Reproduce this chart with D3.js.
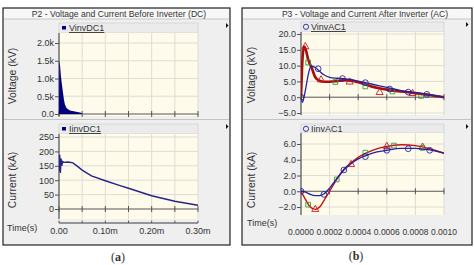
<!DOCTYPE html>
<html>
<head>
<meta charset="utf-8">
<script src="https://cdn.jsdelivr.net/npm/d3@7"></script>
<style>
body{margin:0;background:#fff;}
svg text{font-family:"Liberation Sans",Arial,sans-serif;fill:#333;}
</style>
</head>
<body>
<svg id="chart" width="474" height="265"></svg>
<script>
//Data (time in seconds)
//P2 - DC side
const vinvDC1 = [[0,0],[0.0000006,1500],[0.0000021,1400],[0.0000043,1050],[0.0000058,890],[0.0000086,600],
    [0.0000107,400],[0.0000129,260],[0.0000165,160],[0.0000236,100],[0.0000343,70],[0.000045,40],[0.000049,30],[0.00005,0]];
const iinvDC1 = [[0,130],[0.0000015,188],[0.000003,125],[0.0000045,175],[0.000006,150],[0.000008,165],[0.00001,162],
    [0.00002,163],[0.00003,160],[0.00004,148],[0.00005,135],[0.00007,115],[0.0001,98],[0.00013,82],[0.00015,72],
    [0.0002,46],[0.00025,27],[0.0003,13]];
const dcTimeTicks = [0,0.0001,0.0002,0.0003];
const dcTimeLabels = ['0.00','0.10m','0.20m','0.30m'];
const dcVoltTicks = [0,500,1000,1500,2000];
const dcVoltLabels = ['0.0','0.5k','1.0k','1.5k','2.0k'];
const dcCurrTicks = [0,50,100,150,200,250];

//P3 - AC side
const vinvAC1 = [[0,0],[0.00001,-1.6],[0.00003,2],[0.00005,7],[0.00007,9.8],[0.0001,9.4],[0.00013,8.2],[0.00016,7.1],
    [0.0002,6.3],[0.00025,6.0],[0.0003,5.9],[0.00035,5.6],[0.0004,5.1],[0.00045,4.6],[0.0005,4.1],[0.0006,3.1],
    [0.0007,2.1],[0.0008,1.4],[0.0009,0.8],[0.001,0]];
const vinvAC1Marks = [[0,0],[0.00012,9.0],[0.00029,5.9],[0.00045,4.6],[0.00062,2.6],[0.00075,1.6],[0.00088,0.9]];
const vinvAC2 = [[0,0],[0.000008,10],[0.00002,16],[0.00003,15.5],[0.00005,12],[0.000077,9],[0.0001,6.3],[0.00013,5.2],
    [0.00016,4.9],[0.0002,4.9],[0.00025,5.1],[0.0003,5.4],[0.00035,5.2],[0.0004,4.7],[0.00045,4.0],[0.0005,3.3],
    [0.0006,2.4],[0.0007,1.8],[0.0008,1.3],[0.0009,0.7],[0.001,0]];
const vinvAC2Marks = [[0.00003,16],[0.00014,5.5],[0.00034,4.8],[0.00055,1.5],[0.00078,1.2]];
const vinvAC3Marks = [[0.00005,11],[0.00024,4.8],[0.00045,3.4],[0.00064,1.8],[0.00084,0.4]];

const iinvAC1 = [[0,0],[0.00003,-0.1],[0.00006,-0.35],[0.0001,-0.55],[0.00013,-0.55],[0.00016,-0.35],[0.0002,0.4],
    [0.00025,1.6],[0.0003,2.7],[0.00035,3.5],[0.0004,4.1],[0.00045,4.5],[0.0005,4.85],[0.0006,5.2],[0.0007,5.45],
    [0.0008,5.45],[0.0009,5.25],[0.001,4.85]];
const iinvAC1Marks = [[0,0],[0.00016,-0.4],[0.0003,2.7],[0.00045,4.4],[0.0006,5.2],[0.00075,5.4],[0.0009,5.2]];
const iinvAC2 = [[0,0],[0.00003,-1.0],[0.00006,-1.9],[0.0001,-2.3],[0.00013,-2.0],[0.00016,-1.2],[0.0002,0],
    [0.00025,1.5],[0.0003,2.8],[0.00035,3.6],[0.0004,4.3],[0.00045,4.8],[0.0005,5.2],[0.0006,5.7],[0.0007,5.9],
    [0.0008,5.8],[0.0009,5.4],[0.001,4.8]];
const iinvAC2Marks = [[0.0001,-2.3],[0.00035,3.4],[0.0006,5.7],[0.00085,5.6]];
const iinvAC3Marks = [[0.00005,-1.7],[0.00025,1.5],[0.00045,4.9],[0.00065,5.8],[0.00085,5.5]];

const acTimeTicks = [0,0.0002,0.0004,0.0006,0.0008,0.001];
const acVoltTicks = [-5,0,5,10,15,20];
const acCurrTicks = [-2,0,2,4,6];

const svg = d3.select('#chart');

function drawPanel(p){
    svg.append('rect').attr('x',p.x).attr('y',p.y).attr('width',p.w).attr('height',p.h)
        .attr('fill','#efefef').attr('stroke','#222').attr('stroke-width',1.2);
    svg.append('rect').attr('x',p.x+1).attr('y',p.y+1).attr('width',p.w-2).attr('height',10)
        .attr('fill','#f7f7f7');
    svg.append('line').attr('x1',p.x+1).attr('x2',p.x+p.w-1).attr('y1',p.y+11).attr('y2',p.y+11)
        .attr('stroke','#c6c6c6');
    svg.append('text').attr('x',p.titleX).attr('y',p.y+9).attr('text-anchor','middle')
        .style('font-size','8.6px').text(p.title);
    //divider between the two plots
    svg.append('line').attr('x1',p.x+1).attr('x2',p.x+p.w-1).attr('y1',119.5).attr('y2',119.5)
        .attr('stroke','#c4c4c4');
}

function drawSub(s){
    const g = svg.append('g');
    //legend bar
    g.append('rect').attr('x',s.x0).attr('y',s.legY).attr('width',s.x1-s.x0).attr('height',s.py0-s.legY)
        .attr('fill','#ebebeb').attr('stroke','#d2d2d2').attr('stroke-width',0.8);
    if(s.legMark==='rect'){
        g.append('rect').attr('x',s.x0+3).attr('y',s.legY+3).attr('width',4).attr('height',3.5).attr('fill','#000080');
    } else {
        g.append('circle').attr('cx',s.x0+5).attr('cy',s.legY+4.8).attr('r',2.6)
            .attr('fill','none').attr('stroke','#2323a0').attr('stroke-width',0.9);
    }
    g.append('text').attr('x',s.x0+10).attr('y',s.legY+8).style('font-size','9px')
        .style('text-decoration','underline').text(s.legend);
    //small arrow
    g.append('path').attr('d',`M${s.arrowX},${s.legY}l2.5,2.5l-2.5,2.5z`).attr('fill','#111');

    //plot area
    g.append('rect').attr('x',s.x0).attr('y',s.py0).attr('width',s.x1-s.x0).attr('height',s.py1-s.py0)
        .attr('fill','#fffbeb');

    const x = d3.scaleLinear().domain(s.xDomain).range([s.x0,s.x1]);
    const y = d3.scaleLinear().domain(s.yDomain).range(s.yRange);

    //grid
    g.selectAll('.vg').data(s.xGrid).enter().append('line')
        .attr('x1',d=>x(d)).attr('x2',d=>x(d)).attr('y1',s.py0).attr('y2',s.py1)
        .attr('stroke','#d9d9d4').attr('stroke-width',0.9);
    g.selectAll('.hg').data(s.yTicks.filter(d=>d!==0)).enter().append('line')
        .attr('x1',s.x0).attr('x2',s.x1).attr('y1',d=>y(d)).attr('y2',d=>y(d))
        .attr('stroke','#d9d9d4').attr('stroke-width',0.9);

    //zero axis with crossing ticks
    const y0 = y(0);
    g.append('line').attr('x1',s.x0).attr('x2',s.x1).attr('y1',y0).attr('y2',y0)
        .attr('stroke','#555').attr('stroke-width',1);
    g.selectAll('.zt').data(s.xGrid).enter().append('line')
        .attr('x1',d=>x(d)).attr('x2',d=>x(d)).attr('y1',y0-3).attr('y2',y0+3)
        .attr('stroke','#555').attr('stroke-width',1);

    //y axis
    const yAxis = d3.axisLeft(y).tickValues(s.yTicks).tickFormat(s.yFormat).tickSizeInner(4).tickSizeOuter(0);
    const ya = g.append('g').attr('transform',`translate(${s.x0},0)`).call(yAxis);
    ya.select('.domain').remove();
    ya.selectAll('line').attr('stroke','#555');
    ya.selectAll('text').style('font-size','9px').attr('fill','#333').attr('x',-5);
    g.append('line').attr('x1',s.x0).attr('x2',s.x0).attr('y1',s.py0).attr('y2',s.py1)
        .attr('stroke','#555').attr('stroke-width',1.2);

    //axis title
    g.append('text').attr('transform',`translate(${s.titleX},${(s.titleY)}) rotate(-90)`)
        .attr('text-anchor','middle').style('font-size','10.4px').text(s.yTitle);

    //series
    const clipId = 'clip' + s.id;
    g.append('clipPath').attr('id',clipId).append('rect')
        .attr('x',s.x0).attr('y',s.py0).attr('width',s.x1-s.x0).attr('height',s.py1-s.py0);
    const cg = g.append('g').attr('clip-path',`url(#${clipId})`);
    s.series.forEach(ser=>{
        if(ser.area){
            const area = d3.area().x(d=>x(d[0])).y0(y(0)).y1(d=>y(d[1]));
            cg.append('path').datum(ser.data).attr('d',area).attr('fill',ser.color);
        } else if(ser.data){
            const line = d3.line().x(d=>x(d[0])).y(d=>y(d[1])).curve(ser.curve || d3.curveLinear);
            cg.append('path').datum(ser.data).attr('d',line).attr('fill','none')
                .attr('stroke',ser.color).attr('stroke-width',ser.width);
        }
        if(ser.marks){
            const sym = d3.symbol().type(ser.symbol).size(ser.size);
            cg.selectAll(null).data(ser.marks).enter().append('path')
                .attr('transform',d=>`translate(${x(d[0])},${y(d[1])})`)
                .attr('d',sym).attr('fill','none').attr('stroke',ser.markColor).attr('stroke-width',0.9);
        }
    });
    return x;
}

function drawTimeAxis(x, t){
    if(t.line){
        svg.append('line').attr('x1',x.range()[0]).attr('x2',x.range()[1]).attr('y1',t.y).attr('y2',t.y)
            .attr('stroke','#777').attr('stroke-width',1.6);
        svg.selectAll(null).data(t.minor).enter().append('line')
            .attr('x1',d=>x(d)).attr('x2',d=>x(d)).attr('y1',t.y-2.5).attr('y2',t.y)
            .attr('stroke','#555');
    }
    svg.selectAll(null).data(t.ticks).enter().append('text')
        .attr('x',d=>x(d)).attr('y',t.labelY).attr('text-anchor','middle')
        .style('font-size',t.size).text((d,i)=>t.labels[i]);
    svg.append('text').attr('x',t.nameX).attr('y',t.nameY).style('font-size','9px').text('Time(s)');
}

//Panel (a)
drawPanel({x:3,y:8,w:227,h:237,titleX:119,title:'P2 - Voltage and Current Before Inverter (DC)'});
drawSub({id:'a1',x0:59,x1:198,legY:23,py0:33,py1:116,arrowX:226,
    xDomain:[0,0.0003],yDomain:[0,2000],yRange:[114,43],
    xGrid:d3.range(0,0.00030001,0.00005),yTicks:dcVoltTicks,yFormat:(d,i)=>dcVoltLabels[i],
    legend:'VinvDC1',legMark:'rect',yTitle:'Voltage (kV)',titleX:16,titleY:76,
    series:[{data:vinvDC1,area:true,color:'#000080'}]});
const xa = drawSub({id:'a2',x0:59,x1:198,legY:124,py0:134,py1:219,arrowX:226,
    xDomain:[0,0.0003],yDomain:[0,250],yRange:[209,137],
    xGrid:d3.range(0,0.00030001,0.00005),yTicks:dcCurrTicks,yFormat:d=>d,
    legend:'IinvDC1',legMark:'rect',yTitle:'Current (kA)',titleX:16,titleY:180,
    series:[{data:iinvDC1,color:'#24248a',width:1.4}]});
drawTimeAxis(xa,{line:true,y:223,minor:d3.range(0,0.00030001,0.00005),ticks:dcTimeTicks,labels:dcTimeLabels,
    labelY:234,nameX:7,nameY:231,size:'9px'});

//Panel (b)
drawPanel({x:242,y:8,w:230,h:237,titleX:365,title:'P3 - Voltage and Current After Inverter (AC)'});
drawSub({id:'b1',x0:301,x1:444,legY:22,py0:32,py1:115,arrowX:466,
    xDomain:[0,0.001],yDomain:[-5,20],yRange:[113,34],
    xGrid:acTimeTicks,yTicks:acVoltTicks,yFormat:d3.format('.1f'),
    legend:'VinvAC1',legMark:'circle',yTitle:'Voltage (kV)',titleX:255,titleY:75,
    series:[
        {data:vinvAC2,color:'#a80c0c',width:2.6,curve:d3.curveMonotoneX,marks:vinvAC2Marks,symbol:d3.symbolTriangle,size:22,markColor:'#d01818'},
        {marks:vinvAC3Marks,symbol:d3.symbolSquare,size:22,markColor:'#3c9a3c'},
        {data:vinvAC1,color:'#2323a0',width:1.3,curve:d3.curveMonotoneX,marks:vinvAC1Marks,symbol:d3.symbolCircle,size:26,markColor:'#2323a0'}
    ]});
const xb = drawSub({id:'b2',x0:301,x1:444,legY:124,py0:133,py1:215,arrowX:466,
    xDomain:[0,0.001],yDomain:[-2,6],yRange:[207,144],
    xGrid:acTimeTicks,yTicks:acCurrTicks,yFormat:d3.format('.1f'),
    legend:'IinvAC1',legMark:'circle',yTitle:'Current (kA)',titleX:255,titleY:180,
    series:[
        {data:iinvAC2,color:'#c41010',width:1.4,curve:d3.curveMonotoneX,marks:iinvAC2Marks,symbol:d3.symbolTriangle,size:22,markColor:'#d01818'},
        {marks:iinvAC3Marks,symbol:d3.symbolSquare,size:22,markColor:'#3c9a3c'},
        {data:iinvAC1,color:'#2323a0',width:1.4,curve:d3.curveMonotoneX,marks:iinvAC1Marks,symbol:d3.symbolCircle,size:26,markColor:'#2323a0'}
    ]});
drawTimeAxis(xb,{line:false,ticks:acTimeTicks,labels:acTimeTicks.map(d3.format('.4f')),
    labelY:235,nameX:247,nameY:226,size:'8.5px'});

//captions
const capA = svg.append('text').attr('x',118).attr('y',261).attr('text-anchor','middle')
    .style('font-family','"Liberation Serif",serif').style('font-size','12px').attr('fill','#000');
capA.append('tspan').text('(');
capA.append('tspan').style('font-weight','bold').text('a');
capA.append('tspan').text(')');
const capB = svg.append('text').attr('x',356).attr('y',260).attr('text-anchor','middle')
    .style('font-family','"Liberation Serif",serif').style('font-size','12px').attr('fill','#000');
capB.append('tspan').text('(');
capB.append('tspan').style('font-weight','bold').text('b');
capB.append('tspan').text(')');
</script>
</body>
</html>
